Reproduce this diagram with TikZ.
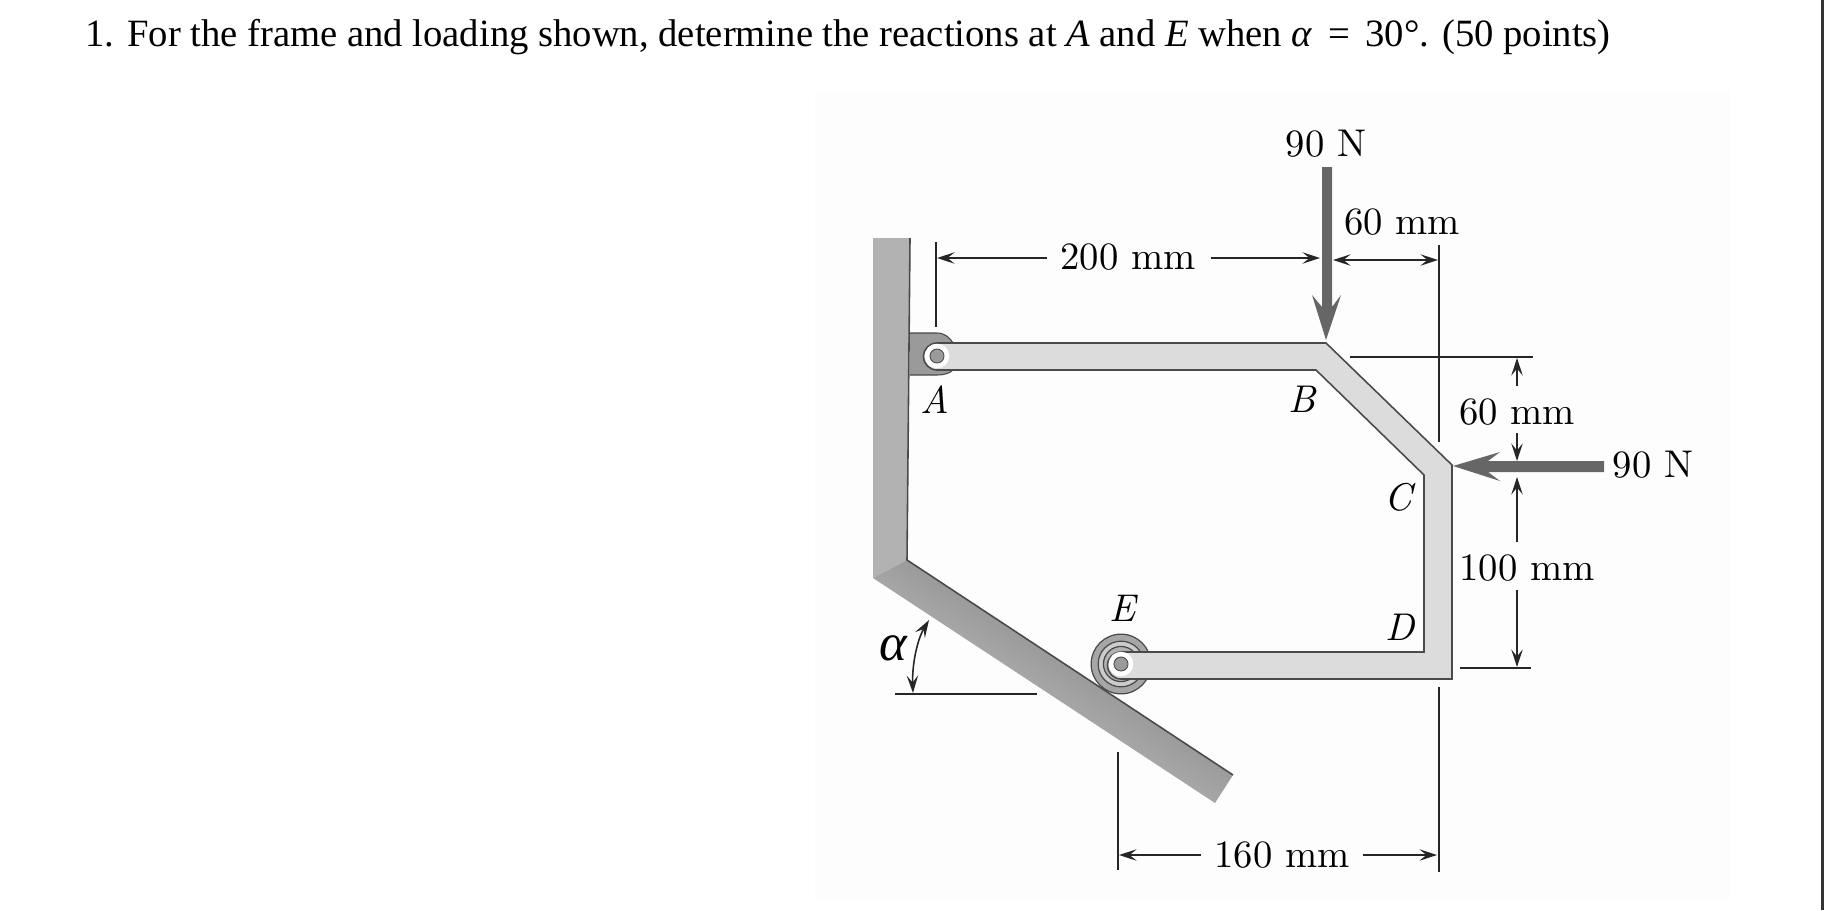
\documentclass[tikz,border=0pt]{standalone}
\usepackage{fontspec}
\usetikzlibrary{arrows.meta}
\newfontfamily\titlefont{Liberation Serif}
\newfontfamily\labelfont[Extension=.otf,ItalicFont=lmroman10-italic]{lmroman10-regular}
\definecolor{wallgray}{HTML}{B2B2B2}
\definecolor{bargray}{HTML}{DCDCDC}
\definecolor{pingray}{HTML}{9A9A9A}
\definecolor{edgegray}{HTML}{4A4A4A}
\definecolor{forcegray}{HTML}{666666}
\tikzset{
    dimtext/.style={inner sep=0pt, font=\labelfont\fontsize{22}{26}\selectfont},
    pointtext/.style={inner sep=0pt, font=\labelfont\fontsize{22}{26}\selectfont\itshape},
    dimline/.style={line width=0.9pt, black!85, >={Stealth[length=10pt,width=6.5pt,inset=4pt]}},
    dimarrow/.style={dimline, ->},
    bothtips/.style={dimline, <->},
    bigring/.style={draw=edgegray, line width=0.7pt},
}
\begin{document}
\begin{tikzpicture}[x=0.02cm,y=-0.02cm]
    \useasboundingbox (0,0) rectangle (1824,910);
    \fill[black!0.6] (815,90) rectangle (1730,900);
    \fill[black!80] (1821,0) rectangle (1824,910);

    % wall
    \fill[wallgray] (873,238) -- (910,238) -- (907,560) -- (873,578) -- cycle;
    \shade[top color=black!55, bottom color=black!18, shading angle=-33]
        (907,560) -- (1233,775) -- (1215,803) -- (873,578) -- cycle;
    \draw[edgegray, line width=0.9pt] (910,238) -- (907,560) -- (1233,775);

    % bracket at A
    \draw[edgegray, fill=pingray, line width=0.6pt] (910,333) -- (937,333)
        .. controls (945,333) and (950,338) .. (953,343) -- (953,370)
        .. controls (950,373) and (945,375) .. (937,375) -- (910,375);

    % rings at E
    \coordinate (E) at (1121,664);
    \coordinate (A) at (937,356);
    \draw[bigring, fill=black!35] (E) circle [radius=17pt];
    \draw[bigring, fill=black!20] (E) circle [radius=13pt];
    \draw[bigring, fill=black!30] (E) circle [radius=10pt];

    % frame
    \draw[edgegray, fill=bargray, line width=0.9pt, line join=miter]
        (937,343) -- (1326,343) -- (1452,465) -- (1452,679) -- (1121,679)
        arc [start angle=90, end angle=270, radius=13.5]
        -- (1424,652) -- (1424,475) -- (1316,370) -- (937,370)
        arc [start angle=90, end angle=270, radius=13.5] -- cycle;

    % pins
    \fill[white] (A) circle [radius=7pt];
    \fill[white] (E) circle [radius=7pt];
    \draw[edgegray, fill=pingray, line width=0.5pt] (A) circle [radius=4pt];
    \draw[edgegray, fill=pingray, line width=0.5pt] (E) circle [radius=4pt];

    % loads
    \fill[forcegray] (1322,167) -- (1332,167) -- (1332,307) -- (1341,295) -- (1326,340)
        -- (1312,295) -- (1322,307) -- cycle;
    \fill[forcegray] (1604,461) -- (1604,472) -- (1488,472) -- (1500,481) -- (1453,466)
        -- (1500,452) -- (1488,461) -- cycle;
    \node[dimtext] (loadtop) at (1326,144) {90 N};
    \node[dimtext] (loadright) at (1653,465) {90 N};

    % extension lines
    \coordinate (extA) at (936,242);
    \coordinate (extAb) at (936,327);
    \coordinate (extC) at (1439,245);
    \coordinate (extCb) at (1439,442);
    \coordinate (extD) at (1439,687);
    \coordinate (extDb) at (1439,872);
    \coordinate (extE) at (1118,752);
    \coordinate (extEb) at (1118,870);
    \coordinate (extB) at (1350,357);
    \coordinate (extBr) at (1533,357);
    \coordinate (extF) at (1460,668);
    \coordinate (extFr) at (1531,668);
    \coordinate (extG) at (895,694);
    \coordinate (extGr) at (1037,694);
    \draw[dimline] (extA) -- (extAb);
    \draw[dimline] (extC) -- (extCb);
    \draw[dimline] (extD) -- (extDb);
    \draw[dimline] (extE) -- (extEb);
    \draw[dimline] (extB) -- (extBr);
    \draw[dimline] (extF) -- (extFr);
    \draw[dimline] (extG) -- (extGr);

    % dimensions
    \node[dimtext] (dimAB) at (1128,257) {200 mm};
    \draw[dimarrow] (dimAB.west) ++(-13,1) -- (937,258);
    \draw[dimarrow] (dimAB.east) ++(15,1) -- (1320,258);

    \node[dimtext] (dimBC) at (1402,222) {60 mm};
    \coordinate (shaftR) at (1333,260);
    \coordinate (extCm) at (1438,260);
    \draw[bothtips] (shaftR) -- (extCm);

    \node[dimtext] (dimCv) at (1517,412) {60 mm};
    \draw[dimarrow] (1517,386) -- (1517,358);
    \draw[dimarrow] (1517,433) -- (1517,461);

    \node[dimtext] (dimCD) at (1527,568) {100 mm};
    \draw[dimarrow] (1517,542) -- (1517,477);
    \draw[dimarrow] (1517,590) -- (1517,667);

    \node[dimtext] (dimED) at (1282,855) {160 mm};
    \draw[dimarrow] (dimED.west) ++(-13,0) -- (1119,855);
    \draw[dimarrow] (dimED.east) ++(13,0) -- (1437,855);

    % angle
    \coordinate (angS) at (913,693);
    \coordinate (angE) at (929,620);
    \draw[bothtips] (angS) .. controls (912,665) and (917,640) .. (angE);
    \node[inner sep=0pt, font=\titlefont\fontsize{30}{34}\selectfont\itshape] (alpha) at (893,648) {α};

    % points
    \node[pointtext] (lblA) at (935,400) {A};
    \node[pointtext] (lblB) at (1302,399) {B};
    \node[pointtext] (lblC) at (1398,497) {C};
    \node[pointtext] (lblD) at (1400,627) {D};
    \node[pointtext] (lblE) at (1123,608) {E};

    % title
    \node[anchor=base west, inner sep=0pt, font=\titlefont\fontsize{22}{26}\selectfont] (title) at (85,46)
        {1. For the frame and loading shown, determine the reactions at \textit{A} and \textit{E} when \textit{α}\hspace{0.4em}=\hspace{0.4em}30°. (50 points)};
\end{tikzpicture}
\end{document}
